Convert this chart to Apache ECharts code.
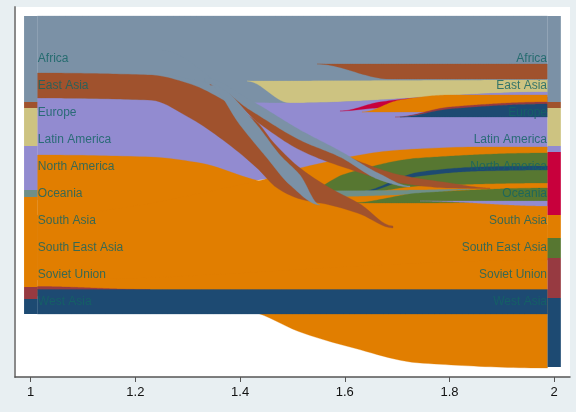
<!DOCTYPE html>
<html><head><meta charset="utf-8">
<script src="https://cdn.jsdelivr.net/npm/echarts@6/dist/echarts.min.js"></script>
<style>html,body{margin:0;padding:0;background:#e8eff2;}#c{width:576px;height:412px;}</style>
</head><body><div id="c"></div>
<script>
// ---- data ----
const regions = ['Africa','East Asia','Europe','Latin America','North America','Oceania','South Asia','South East Asia','Soviet Union','West Asia'];
const regionColors = ['#7b91a6','#a0522d','#cdc381','#928bd0','#c8003c','#6f8f88','#e17e00','#577731','#973a41','#1d4a72'];
const leftHeights  = [86,6,38,44,0,7,90,0,12,15];
const rightHeights = [86,6,38,6,63,0,23,20,40,69];
const nodeTop = 16;
const xTicks = [1,1.2,1.4,1.6,1.8,2];
const labelFirst = 59, labelStep = 27;

// flows: region colour index, upper edge, lower edge
const flowRegion = [0,2,1,3,6,6,8,9,4,6,8,9,7,9,5,7,3,1,1,0,0];
const flowTop = [
  [[1.0126,16],[1.9873,16]],
  [[1.4132,81],[1.9873,80]],
  [[1.5469,64],[1.9873,64]],
  [[1.0126,98],[1.4953,103],[1.9873,92]],
  [[1.0126,155],[1.2279,157],[1.3234,163],[1.4380,181],[1.9873,225]],
  [[1.0126,215],[1.4342,181],[1.5144,168],[1.7054,150],[1.8582,147],[1.9873,147]],
  [[1.0126,286.5],[1.2279,289.5]],
  [[1.0126,289.5],[1.9873,289.5]],
  [[1.5908,111],[1.6672,102],[1.7436,98],[1.9873,97]],
  [[1.6328,112],[1.7054,100],[1.8009,95],[1.9873,95]],
  [[1.6959,117],[1.8009,107],[1.9873,102]],
  [[1.7054,117],[1.8009,109],[1.9873,104]],
  [[1.5240,192],[1.6004,174],[1.7436,158],[1.9873,153]],
  [[1.6233,192],[1.7436,172],[1.8582,167],[1.9873,166]],
  [[1.5144,191],[1.7436,190],[1.8391,189]],
  [[1.6099,203],[1.7436,193],[1.9873,188]],
  [[1.7436,201],[1.9873,201]],
  [[1.0126,73],[1.2279,75],[1.3043,84],[1.3673,100],[1.4323,122],[1.4629,142],[1.5144,168],[1.5717,188],[1.6290,204],[1.6920,226]],
  [[1.3425,83],[1.4380,110],[1.5144,139],[1.5908,154],[1.7054,175],[1.8009,183],[1.8773,188]],
  [[1.2470,50],[1.3673,88],[1.4323,125],[1.4762,155],[1.5144,175],[1.5526,205]],
  [[1.3330,78],[1.4189,100],[1.5144,130],[1.5908,151],[1.6672,174],[1.7245,186]]
];
const flowBottom = [
  [[1.0126,110],[1.9873,110]],
  [[1.4132,81],[1.4953,103],[1.9873,92]],
  [[1.5469,64],[1.6863,79],[1.9873,79]],
  [[1.0126,200],[1.9873,150]],
  [[1.0126,296],[1.3807,305],[1.4380,314],[1.5144,332],[1.6099,347],[1.7436,363],[1.9873,368]],
  [[1.0126,280],[1.9873,260]],
  [[1.0126,290],[1.2279,290]],
  [[1.0126,314],[1.9873,314]],
  [[1.5908,111],[1.6672,108],[1.9873,110]],
  [[1.6328,112],[1.9873,112]],
  [[1.6959,117],[1.8009,110],[1.9873,104]],
  [[1.7054,117],[1.9873,117]],
  [[1.5240,192],[1.6004,195],[1.7436,186],[1.9873,183]],
  [[1.6233,193],[1.7436,176],[1.8582,171],[1.9873,170]],
  [[1.5144,197],[1.7436,194],[1.8391,189.5]],
  [[1.6099,203],[1.7436,203],[1.9873,201]],
  [[1.7436,201],[1.9873,206]],
  [[1.0126,98],[1.2279,100],[1.3043,118],[1.3673,140],[1.4323,168],[1.4705,188],[1.5144,199],[1.5717,205],[1.6290,214],[1.6920,228]],
  [[1.3425,85],[1.4380,124],[1.5144,150],[1.5908,166],[1.7054,183],[1.8009,188],[1.8773,188.5]],
  [[1.2470,74],[1.3043,79],[1.3425,84],[1.3998,125],[1.4514,158],[1.4953,185],[1.5526,205]],
  [[1.3330,82],[1.4189,110],[1.5144,140],[1.5908,157],[1.6672,180],[1.7245,187]]
];

// ---- helpers (curve drawing through keypoints) ----
function tangents(p){
  const n=p.length, m=new Array(n).fill(0);
  for(let k=1;k<n-1;k++){
    const d1=(p[k][1]-p[k-1][1])/(p[k][0]-p[k-1][0]);
    const d2=(p[k+1][1]-p[k][1])/(p[k+1][0]-p[k][0]);
    m[k]= d1*d2>0 ? 2*d1*d2/(d1+d2) : 0;
  }
  return m;
}
function evalEdge(p,m,x){
  let k=0; while(k<p.length-2 && x>p[k+1][0]) k++;
  const x0=p[k][0],y0=p[k][1],x1=p[k+1][0],y1=p[k+1][1],h=x1-x0;
  const t=Math.min(1,Math.max(0,(x-x0)/h)),t2=t*t,t3=t2*t;
  return (2*t3-3*t2+1)*y0+(t3-2*t2+t)*h*m[k]+(-2*t3+3*t2)*y1+(t3-t2)*h*m[k+1];
}
const BAR_HALF = 0.0127;
const labelFont = '12px "Liberation Sans", Arial, sans-serif';

const nodeData = [];
[[1,leftHeights],[2,rightHeights]].forEach(([side,hs])=>{
  let y=nodeTop;
  hs.forEach((h,i)=>{ if(h>0) nodeData.push([side,y,y+h,i]); y+=h; });
});

const chart = echarts.init(document.getElementById('c'), null, {renderer:'canvas'});
chart.setOption({
  backgroundColor:'#e8eff2',
  animation:false,
  grid:{left:15,right:6,top:7,bottom:35,show:true,backgroundColor:'#ffffff',borderWidth:0},
  xAxis:{type:'value',min:0.97,max:2.0302,
    axisLine:{onZero:false,lineStyle:{color:'#555',width:1.5}},
    axisTick:{customValues:xTicks,length:5,lineStyle:{color:'#555'}},
    axisLabel:{customValues:xTicks,margin:9,color:'#111',fontSize:13,fontFamily:'"Liberation Sans", Arial, sans-serif',
      formatter:v=>String(+(+v).toFixed(1))},
    splitLine:{show:false}},
  yAxis:{type:'value',inverse:true,min:7,max:377,
    axisLine:{show:true,onZero:false,lineStyle:{color:'#8a8a8a',width:2}},
    axisTick:{show:false},axisLabel:{show:false},splitLine:{show:false}},
  series:[
    {type:'custom',coordinateSystem:'cartesian2d',silent:true,z:2,
      data:flowTop.map((e,i)=>[e[0][0],e[0][1],i]),
      encode:{x:0,y:1},
      renderItem:(params,api)=>{
        const i=params.dataIndex, top=flowTop[i], bot=flowBottom[i];
        const mt=tangents(top), mb=tangents(bot);
        const xa=top[0][0], xb=top[top.length-1][0], N=90, up=[], dn=[];
        for(let s=0;s<=N;s++){
          const x=xa+(xb-xa)*s/N;
          up.push(api.coord([x,evalEdge(top,mt,x)]));
          dn.push(api.coord([x,evalEdge(bot,mb,x)]));
        }
        return {type:'polygon',shape:{points:up.concat(dn.reverse())},
          style:{fill:regionColors[flowRegion[i]],stroke:regionColors[flowRegion[i]],lineWidth:0.3}};
      }},
    {type:'custom',coordinateSystem:'cartesian2d',silent:true,z:3,
      data:nodeData, encode:{x:0,y:1},
      renderItem:(params,api)=>{
        const side=api.value(0),y0=api.value(1),y1=api.value(2),r=api.value(3);
        const a=api.coord([side-BAR_HALF,y0]), b=api.coord([side+BAR_HALF,y1]);
        return {type:'rect',shape:{x:a[0],y:a[1],width:b[0]-a[0],height:b[1]-a[1]},
          style:{fill:regionColors[r]}};
      }},
    {type:'custom',coordinateSystem:'cartesian2d',silent:true,z:4,
      data:regions.flatMap((n,i)=>[[1,labelFirst+i*labelStep,i],[2,labelFirst+i*labelStep,i]]),
      encode:{x:0,y:1},
      renderItem:(params,api)=>{
        const side=api.value(0), y=api.value(1), i=api.value(2);
        const p=api.coord([side===1?1+BAR_HALF:2-BAR_HALF,y]);
        return {type:'text',x:p[0]+(side===1?0.5:-0.5),y:p[1],
          style:{text:regions[i],fill:'rgba(20,100,100,0.82)',font:labelFont,
            align:side===1?'left':'right',verticalAlign:'middle',
            textAlign:side===1?'left':'right',textVerticalAlign:'middle'}};
      }}
  ]
});
</script></body></html>
